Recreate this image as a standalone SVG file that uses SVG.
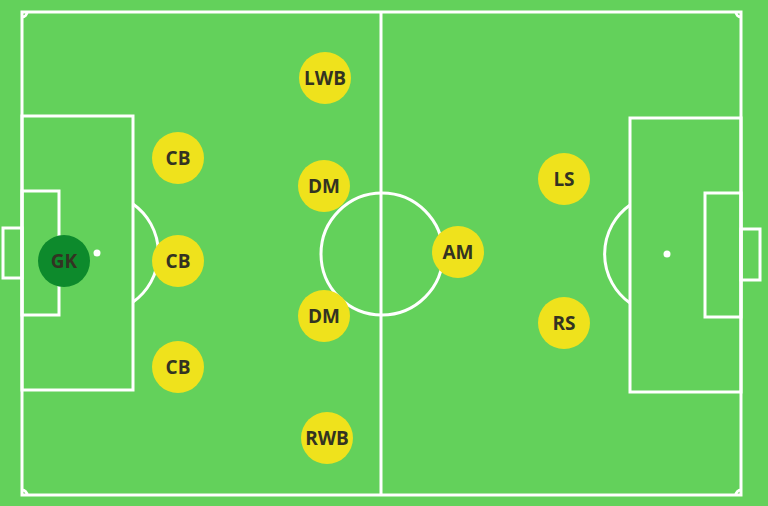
<svg xmlns="http://www.w3.org/2000/svg" width="768" height="506" viewBox="0 0 768 506">
<style>
.ln{fill:none;stroke:#ffffff;stroke-width:3}
.dot{fill:#ffffff}
.pl{fill:#efe21c}
.gk{fill:#0d8a2c}
.lb{font-family:"Open Sans","Noto Sans",sans-serif;font-weight:bold;font-size:19px;fill:#333322;text-anchor:middle;dominant-baseline:central}
</style>
<rect x="0" y="0" width="768" height="506" fill="#63d15b"/>
<g id="pitch">
<rect class="ln" x="22" y="12" width="719" height="483"/>
<line class="ln" x1="381" y1="12" x2="381" y2="495"/>
<circle class="ln" cx="382" cy="254" r="61"/>
<rect class="ln" x="22" y="116" width="111" height="274"/>
<rect class="ln" x="22" y="191" width="37" height="124"/>
<rect class="ln" x="3" y="228" width="19" height="50"/>
<circle class="dot" cx="97" cy="253" r="3.5"/>
<path class="ln" d="M133,204 A60,60 0 0 1 133,302"/>
<rect class="ln" x="630" y="118" width="111" height="274"/>
<rect class="ln" x="705" y="193" width="36" height="124"/>
<rect class="ln" x="741" y="229" width="19" height="51"/>
<circle class="dot" cx="667" cy="254" r="3.5"/>
<path class="ln" d="M630,205 A60,60 0 0 0 630,303"/>
<path class="ln" d="M22,17 A5,5 0 0 0 27,12"/>
<path class="ln" d="M736,12 A5,5 0 0 0 741,17"/>
<path class="ln" d="M22,490 A5,5 0 0 1 27,495"/>
<path class="ln" d="M736,495 A5,5 0 0 1 741,490"/>
</g>
<g id="connectors"></g>
<g id="gk"><circle class="gk" cx="64" cy="261" r="26"/><text class="lb" x="64" y="261">GK</text></g>
<g id="cb1"><circle class="pl" cx="178" cy="158" r="26"/><text class="lb" x="178" y="158">CB</text></g>
<g id="cb2"><circle class="pl" cx="178" cy="261" r="26"/><text class="lb" x="178" y="261">CB</text></g>
<g id="cb3"><circle class="pl" cx="178" cy="367" r="26"/><text class="lb" x="178" y="367">CB</text></g>
<g id="lwb"><circle class="pl" cx="325" cy="78" r="26"/><text class="lb" x="325" y="78">LWB</text></g>
<g id="dm1"><circle class="pl" cx="324" cy="186" r="26"/><text class="lb" x="324" y="186">DM</text></g>
<g id="dm2"><circle class="pl" cx="324" cy="316" r="26"/><text class="lb" x="324" y="316">DM</text></g>
<g id="rwb"><circle class="pl" cx="327" cy="438" r="26"/><text class="lb" x="327" y="438">RWB</text></g>
<g id="am"><circle class="pl" cx="458" cy="252" r="26"/><text class="lb" x="458" y="252">AM</text></g>
<g id="ls"><circle class="pl" cx="564" cy="179" r="26"/><text class="lb" x="564" y="179">LS</text></g>
<g id="rs"><circle class="pl" cx="564" cy="323" r="26"/><text class="lb" x="564" y="323">RS</text></g>
</svg>
